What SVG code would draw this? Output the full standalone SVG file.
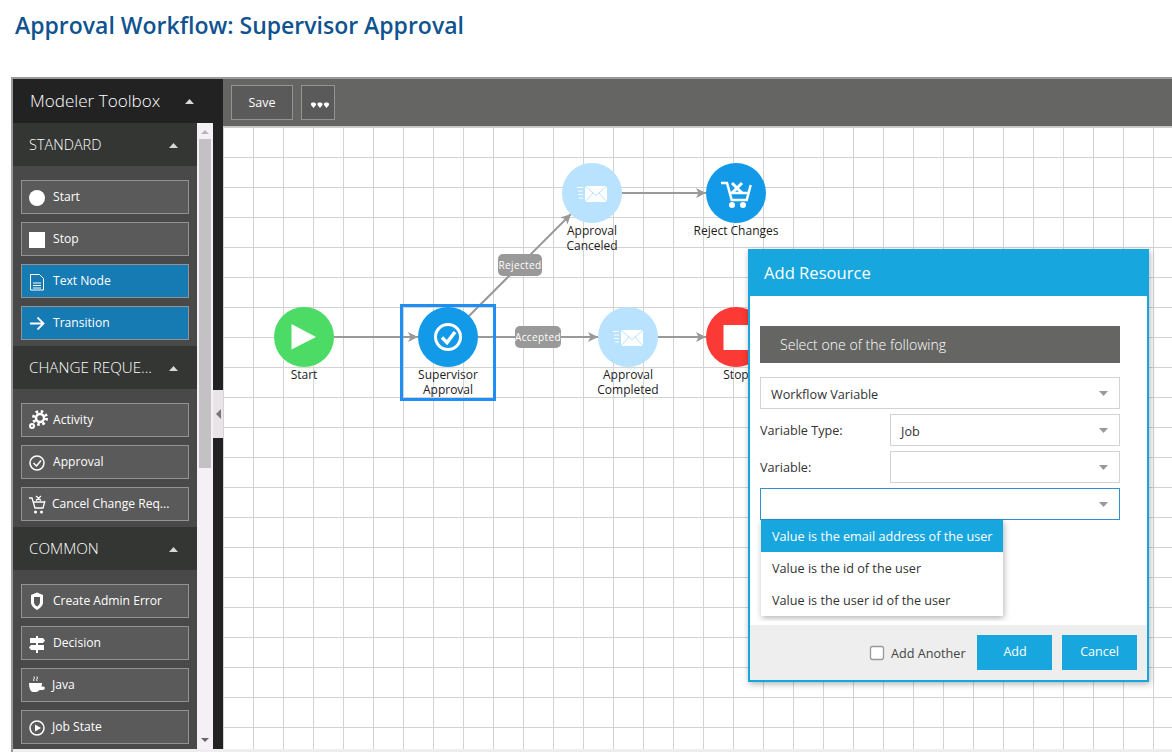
<svg xmlns="http://www.w3.org/2000/svg" width="1172" height="752" viewBox="0 0 1172 752">
<style>
text{font-family:"Open Sans","Noto Sans","Liberation Sans",sans-serif}
.title{font-size:23px;font-weight:600;fill:#0f5390}
.tb{font-size:17.100px;font-weight:300;fill:#fff}
.sec{font-size:14.500px;font-weight:300;fill:#fff}
.sec2{font-size:15.200px;font-weight:300;fill:#fff}
.it{font-size:12.100px;fill:#fff;font-weight:400}
.itr{fill:#5a5a5a;stroke:#939393;stroke-width:1}
.itb{fill:#167ab3;stroke:#939393;stroke-width:1}
.sech{fill:#343633}
.lbl{font-size:12px;fill:#1c1c1c;text-anchor:middle}
.tag{fill:#999;rx:5px}
.tagt{font-size:10px;font-weight:400;letter-spacing:.4px;fill:#fff;text-anchor:middle}
.conn{stroke:#999;stroke-width:2;fill:none;marker-end:url(#arr)}
.sel{fill:#fff;stroke:#d3d3d3;stroke-width:1}
.dt{font-size:12.650px;fill:#333;font-weight:400}
.wh{fill:#fff}
.wl{fill:none;stroke:#fff;stroke-width:1.500}
.caret{fill:#d8d8d8}
.sc{fill:#999}
</style>
<defs>
<pattern id="grid" x="224" y="128" width="30" height="30" patternUnits="userSpaceOnUse">
<path d="M29 0H30V30H0V29H29Z" fill="#d3d3d3"/>
</pattern>
<marker id="arr" markerUnits="userSpaceOnUse" markerWidth="12" markerHeight="12" refX="10" refY="5" orient="auto">
<path d="M0 0L10 5L0 10L2.500 5Z" fill="#999"/>
</marker>
<filter id="shadow" x="-5%" y="-5%" width="110%" height="110%"><feDropShadow dx="1" dy="2" stdDeviation="3" flood-color="#000" flood-opacity=".3"/></filter>
<g id="mail">
<rect x="-7" y="-8" width="22" height="16" fill="#fff"/>
<path d="M-7 -8L4 1.500L15 -8M-7 8L1 -1M15 8L7 -1" fill="none" stroke="#b8e2fd" stroke-width="1"/>
<path d="M-15 -6.500h6M-14 -3h5M-14 .5h5M-13 4h4" stroke="#fff" fill="none"/>
</g>
</defs>
<rect width="1172" height="752" fill="#fff"/>
<text class="title" x="15" y="34">Approval Workflow: Supervisor Approval</text>

<g id="frame">
<rect x="11" y="77" width="1161" height="675" fill="#999"/>
<rect x="13" y="79" width="1159" height="670" fill="#222"/>
<rect x="223" y="79" width="949" height="47" fill="#656663"/>
<rect x="223" y="126" width="949" height="623" fill="#fff"/>
<rect x="223" y="126" width="949" height="623" fill="url(#grid)"/>
<rect x="223" y="126" width="949" height="1.500" fill="#c8c8c8"/>
<rect x="11" y="749" width="1161" height="3" fill="#eee"/>
<rect x="11" y="749" width="2" height="3" fill="#999"/>
</g>

<g id="toolbar">
<rect x="231.500" y="85.500" width="61" height="34" fill="#5a5a5a" stroke="#939393"/>
<text x="262" y="107" text-anchor="middle" font-size="12.500" fill="#fff">Save</text>
<rect x="301.500" y="85.500" width="33" height="34" fill="#5a5a5a" stroke="#939393"/>
<path class="wh" d="M311 103.500c0-1.500 4.500-1.500 5 0v1.500l-2.500 3l-2.500-3ZM317.500 103.500c0-1.500 4.500-1.500 5 0v1.500l-2.500 3l-2.500-3ZM324 103.500c0-1.500 4.500-1.500 5 0v1.500l-2.500 3l-2.500-3Z"/>
</g>

<g id="toolbox">
<text class="tb" x="30" y="107">Modeler Toolbox</text>
<path class="caret" d="M185 104L189.500 99L194 104Z"/>
<rect x="13" y="123" width="184" height="626" fill="#494949"/>
<rect x="197" y="123" width="16" height="626" fill="#f5f0f5"/>
<rect x="199" y="139" width="12" height="329" fill="#c4c1c4"/>
<path d="M201 134L205 130L209 134Z" fill="#b8b4b8"/>
<path d="M201 738L209 738L205 742Z" fill="#666"/>
<rect x="213" y="390" width="10" height="48" fill="#e8e4e8"/>
<path d="M221 409V419L216 414Z" fill="#777"/>

<g id="sec-standard">
<rect class="sech" x="13" y="123" width="184" height="43"/>
<text class="sec" x="29" y="150">STANDARD</text>
<path class="caret" d="M169 148L173.500 143L178 148Z"/>
</g>
<g id="item-start"><rect class="itr" x="21.500" y="180.500" width="167" height="33"/><circle class="wh" cx="37" cy="198" r="8"/><text class="it" x="53" y="201">Start</text></g>
<g id="item-stop"><rect class="itr" x="21.500" y="222.500" width="167" height="33"/><rect class="wh" x="29" y="232" width="16" height="16"/><text class="it" x="53" y="243">Stop</text></g>
<g id="item-text"><rect class="itb" x="21.500" y="264.500" width="167" height="33"/><path class="wl" style="stroke-width:1" d="M30.500 274.500h9l4 4v11.500h-13ZM33 283h8M33 285.500h8M33 288h8"/><text class="it" x="53" y="285">Text Node</text></g>
<g id="item-transition"><rect class="itb" x="21.500" y="306.500" width="167" height="33"/><path class="wl" style="stroke-width:1.800" d="M30 323.500h13M37.500 317.500L43.500 323.500L37.500 329.500"/><text class="it" x="53" y="327">Transition</text></g>

<g id="sec-change">
<rect class="sech" x="13" y="346" width="184" height="43"/>
<text class="sec2" x="29" y="373">CHANGE REQUE...</text>
<path class="caret" d="M169 371L173.500 366L178 371Z"/>
</g>
<g id="item-activity"><rect class="itr" x="21.500" y="403.500" width="167" height="33"/><circle cx="40" cy="418" r="6.500" fill="none" stroke="#fff" stroke-width="3" stroke-dasharray="2.500 2.600"/><circle cx="40" cy="418" r="4" fill="none" stroke="#fff" stroke-width="2.500"/><circle cx="32" cy="426" r="2" fill="none" stroke="#fff" stroke-width="2"/><text class="it" x="53" y="424">Activity</text></g>
<g id="item-approval"><rect class="itr" x="21.500" y="445.500" width="167" height="33"/><circle cx="37" cy="463" r="7" class="wl"/><path class="wl" d="M33.500 463L36.500 466L41 460.500"/><text class="it" x="53" y="466">Approval</text></g>
<g id="item-cancel"><rect class="itr" x="21.500" y="487.500" width="167" height="33"/><path class="wl" style="stroke-width:1.300" d="M29 498h3l3 10h8l2-7M33 502h11M36 496l5 4.500M41 496l-5 4.500"/><circle class="wh" cx="35.500" cy="512" r="1.500"/><circle class="wh" cx="41.500" cy="512" r="1.500"/><text class="it" x="52" y="508">Cancel Change Req...</text></g>

<g id="sec-common">
<rect class="sech" x="13" y="527" width="184" height="43"/>
<text class="sec2" x="29" y="554">COMMON</text>
<path class="caret" d="M169 552L173.500 547L178 552Z"/>
</g>
<g id="item-admin"><rect class="itr" x="21.500" y="584.500" width="167" height="33"/><path class="wh" d="M31 595l6-2.500l6 2.500v7c0 4-3 6-6 8c-3-2-6-4-6-8Z"/><path d="M34 597h6v5c0 2-1.500 3.500-3 4.500c-1.500-1-3-2.500-3-4.500Z" fill="#5a5a5a"/><text class="it" x="53" y="605">Create Admin Error</text></g>
<g id="item-decision"><rect class="itr" x="21.500" y="626.500" width="167" height="33"/><path class="wh" d="M36 636h2v2h5l2 2.500l-2 2.500h-5v2h6v5h-6v3h-2v-3h-5l-2-2.500l2-2.500h5v-2h-6v-5h6Z"/><text class="it" x="53" y="647">Decision</text></g>
<g id="item-java"><rect class="itr" x="21.500" y="668.500" width="167" height="33"/><path class="wh" d="M29 683h13c0 1.500-.2 2.500-.6 3.500h1.800c2.300 0 2.300 3.500-.7 3.500h-3c-1 1.200-2 2-3.500 2h-3c-2.500 0-4-4-4-9Z"/><path class="wl" style="stroke-width:1" d="M34 681c-1.500-2 1.500-2 0-4.500M37 681c-1.500-2 1.500-2 0-4.500"/><text class="it" x="52" y="689">Java</text></g>
<g id="item-jobstate"><rect class="itr" x="21.500" y="710.500" width="167" height="33"/><circle cx="37" cy="728" r="7" class="wl"/><path class="wh" d="M35 724.500L41 728L35 731.500Z"/><text class="it" x="52" y="731">Job State</text></g>
</g>

<g id="connectors">
<line class="conn" x1="334" y1="337" x2="418" y2="337"/>
<line class="conn" x1="478" y1="337" x2="598" y2="337"/>
<line class="conn" x1="469" y1="316" x2="571" y2="214"/>
<line class="conn" x1="622" y1="193" x2="706" y2="193"/>
<line class="conn" x1="658" y1="337" x2="706" y2="337"/>
<rect class="tag" x="498" y="254" width="44" height="22"/>
<text class="tagt" x="520" y="268.500">Rejected</text>
<rect class="tag" x="515" y="326" width="46" height="22"/>
<text class="tagt" x="538" y="340.500">Accepted</text>
</g>

<g id="node-start">
<circle cx="304" cy="337" r="30" fill="#4cdb65"/>
<path class="wh" d="M291.500 324L316 337L291.500 349.500Z"/>
<text class="lbl" x="304" y="379">Start</text>
</g>
<g id="node-supervisor">
<rect x="401.500" y="305.500" width="93" height="94" fill="none" stroke="#1e90f5" stroke-width="3"/>
<circle cx="448" cy="337" r="30" fill="#129ae8"/>
<circle cx="448" cy="337" r="12.500" fill="none" stroke="#fff" stroke-width="3"/>
<path d="M442 337.500L447 342.500L455 332" fill="none" stroke="#fff" stroke-width="3.500"/>
<text class="lbl" x="448" y="379">Supervisor</text>
<text class="lbl" x="448" y="394">Approval</text>
</g>
<g id="node-canceled">
<circle cx="592" cy="193" r="30" fill="#b8e2fd"/>
<use href="#mail" x="592" y="194"/>
<text class="lbl" x="592" y="235">Approval</text>
<text class="lbl" x="592" y="250">Canceled</text>
</g>
<g id="node-reject">
<circle cx="736" cy="193" r="30" fill="#129ae8"/>
<path d="M721 183h6l4.700 17h15l4-15M730 193h18" fill="none" stroke="#fff" stroke-width="2.500"/>
<path d="M732 183L742 193M742 183L732 193" stroke="#fff" stroke-width="3"/>
<circle class="wh" cx="732" cy="205" r="3"/><circle class="wh" cx="743" cy="205" r="3"/>
<text class="lbl" x="736" y="235">Reject Changes</text>
</g>
<g id="node-completed">
<circle cx="628" cy="337" r="30" fill="#b8e2fd"/>
<use href="#mail" x="628" y="338"/>
<text class="lbl" x="628" y="379">Approval</text>
<text class="lbl" x="628" y="394">Completed</text>
</g>
<g id="node-stop">
<circle cx="736" cy="337" r="30" fill="#fb3935"/>
<rect class="wh" x="723.500" y="325" width="25" height="25"/>
<text class="lbl" x="736" y="379">Stop</text>
</g>

<g id="dialog">
<rect x="749" y="250" width="399" height="431" fill="#fff" stroke="#18a6de" stroke-width="2" filter="url(#shadow)"/>
<rect x="748" y="249" width="401" height="47" fill="#18a6de"/>
<text x="764" y="279" font-size="16.600" font-weight="400" fill="#fff">Add Resource</text>
<rect x="760" y="326" width="360" height="37" fill="#656663"/>
<text x="780" y="350" font-size="14.100" font-weight="300" fill="#fff">Select one of the following</text>
<rect class="sel" x="760.500" y="377.500" width="359" height="31"/>
<text class="dt" x="771" y="399">Workflow Variable</text>
<path class="sc" d="M1099 391H1108L1103.500 396Z"/>
<text class="dt" x="760" y="435">Variable Type:</text>
<rect class="sel" x="890.500" y="414.500" width="229" height="31"/>
<text class="dt" x="901" y="436">Job</text>
<path class="sc" d="M1099 428H1108L1103.500 433Z"/>
<text class="dt" x="760" y="472">Variable:</text>
<rect class="sel" x="890.500" y="451.500" width="229" height="31"/>
<path class="sc" d="M1099 465H1108L1103.500 470Z"/>
<rect x="760.500" y="488.500" width="359" height="31" fill="#fff" stroke="#2f8fd0"/>
<path class="sc" d="M1099 502H1108L1103.500 507Z"/>
<rect x="750" y="625" width="397" height="55" fill="#eee"/>
<rect x="870.500" y="646.500" width="13" height="13" rx="2" fill="#fff" stroke="#999" stroke-width="1.300"/>
<text class="dt" x="891" y="658" style="fill:#444">Add Another</text>
<rect x="977" y="635" width="75" height="35" fill="#18a6de"/>
<text x="1015" y="656" text-anchor="middle" font-size="12.500" fill="#fff">Add</text>
<rect x="1062" y="635" width="75" height="35" fill="#18a6de"/>
<text x="1099.500" y="656" text-anchor="middle" font-size="12.500" fill="#fff">Cancel</text>
<g id="dropdown">
<rect x="761" y="520" width="242" height="96" fill="#fff" filter="url(#shadow)"/>
<rect x="761" y="520" width="242" height="32" fill="#18a6de"/>
<text class="dt" x="772" y="541" style="fill:#fff">Value is the email address of the user</text>
<text class="dt" x="772" y="573">Value is the id of the user</text>
<text class="dt" x="772" y="605">Value is the user id of the user</text>
</g>
</g>
</svg>
